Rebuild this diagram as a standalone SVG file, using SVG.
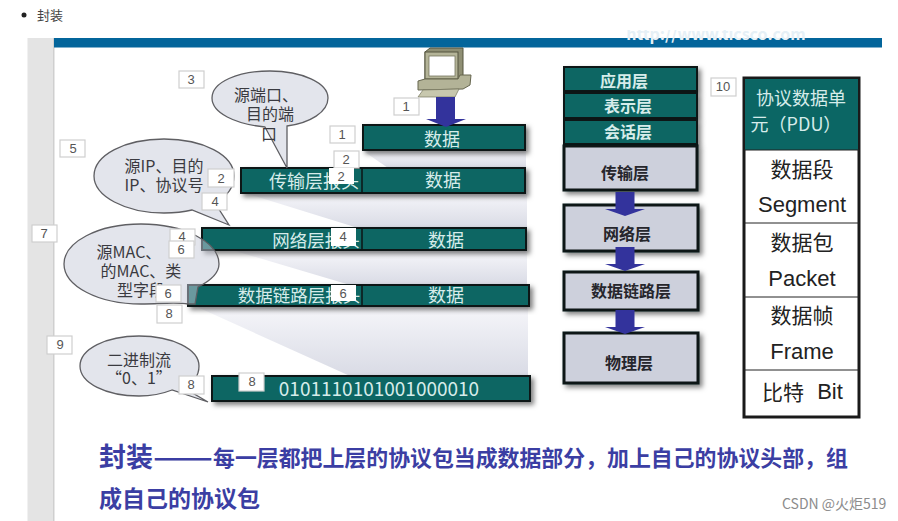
<svg xmlns="http://www.w3.org/2000/svg" width="898" height="521" viewBox="0 0 898 521">
<style>
text{font-family:"Noto Sans CJK SC","Liberation Sans",sans-serif}
.bar{fill:#0b6664;stroke:#0d1414;stroke-width:2}
.lay{fill:#cdd0dc;stroke:#0d1414;stroke-width:3}
.w{fill:#d6ecea;text-anchor:middle}
.d{fill:#26262c;text-anchor:middle;font-weight:700}
.c{fill:#3a3a40;text-anchor:middle;font-size:16px}
.call{fill:#c8cbd9;fill-opacity:.5;stroke:#5f5f63;stroke-width:1.3}
.num rect{fill:#fff;stroke:#cfcfcf;stroke-width:1.2}
.num text{fill:#555;text-anchor:middle;font-size:13px;font-family:"Liberation Sans",sans-serif}
.pd{fill:#222;text-anchor:middle;font-size:21px}
.en{fill:#222;text-anchor:middle;font-size:22px;font-family:"Liberation Sans",sans-serif}
.ar{fill:#33339c}
.ttl{fill:#3b3ea3;font-weight:700}
</style>
<defs>
<filter id="sh" x="-10%" y="-20%" width="125%" height="160%"><feDropShadow dx="3" dy="3" stdDeviation="2.500" flood-color="#000" flood-opacity=".5"/></filter>
<linearGradient id="fadeV" x1="0" y1="0" x2="0" y2="1"><stop offset="0" stop-color="#f6f6fa"/><stop offset="1" stop-color="#d9dbe5"/></linearGradient>
<path id="arrow" d="M-9.500 0H9.500V17H20L0 24L-20 17H-9.500Z"/>
</defs>

<rect width="898" height="521" fill="#fff"/>
<g id="page-heading"><circle cx="24" cy="15" r="2.500" fill="#222"/><text x="37" y="20" font-size="13" fill="#444">封装</text></g>
<rect x="27.500" y="38" width="26" height="483" fill="#e4e4e4"/>
<rect x="53" y="38" width="1.500" height="483" fill="#cfcfcf"/>
<rect x="54" y="38" width="828" height="9.500" fill="#03659b"/>
<text x="716" y="39.500" font-size="16" font-weight="700" fill="#e6f0f6" text-anchor="middle" font-family="Liberation Sans,sans-serif">http://www.ticsco.com</text>
<rect x="600" y="22" width="230" height="8" fill="#fff"/>

<g id="fade-bands">
<polygon points="362,150 526,150 526,168 388,168" fill="url(#fadeV)"/>
<polygon points="245,193 527,193 527,228 358,228" fill="url(#fadeV)"/>
<polygon points="235,251 527,251 527,285 350,285" fill="url(#fadeV)"/>
<polygon points="195,306 528,306 528,376 350,376" fill="url(#fadeV)"/>
</g>

<g id="computer">
<polygon points="425,52 430,48 463,48 463,75 458,79 425,79" fill="#8f8f74" stroke="#55553f"/>
<rect x="425" y="52" width="33" height="27" fill="#b4b498" stroke="#55553f"/>
<rect x="429" y="56" width="26" height="20" fill="#fff" stroke="#77775f" stroke-width=".8"/>
<polygon points="418,81 425,79 458,79 460,75 471,75 470,85 463,89 418,90" fill="#b3b397" stroke="#66664f"/>
<polygon points="423,90 459,89 455,97 418,97" fill="#c8c8ae" stroke="#77775f" stroke-width=".7"/>
</g>

<g id="seg-data"><rect class="bar" x="363" y="125" width="162" height="25" filter="url(#sh)"/><text class="w" x="442" y="146" font-size="18">数据</text></g>
<g id="seg-transport"><rect class="bar" x="241" y="168" width="284" height="25" filter="url(#sh)"/><line x1="362" y1="168" x2="362" y2="193" stroke="#0d1414" stroke-width="1.500"/><text class="w" x="314" y="188" font-size="18">传输层报头</text><text class="w" x="443" y="187" font-size="18">数据</text></g>
<g id="seg-network"><rect class="bar" x="202" y="228" width="324" height="22" filter="url(#sh)"/><line x1="362" y1="228" x2="362" y2="250" stroke="#0d1414" stroke-width="1.500"/><text class="w" x="316" y="247" font-size="17.500">网络层报头</text><text class="w" x="446" y="247" font-size="18">数据</text></g>
<g id="seg-link"><rect class="bar" x="188" y="285" width="341" height="21" filter="url(#sh)"/><line x1="362" y1="285" x2="362" y2="306" stroke="#0d1414" stroke-width="1.500"/><text class="w" x="299" y="302" font-size="17.500">数据链路层报头</text><text class="w" x="446" y="302" font-size="18">数据</text></g>
<g id="seg-bits"><rect class="bar" x="212" y="376" width="318" height="25" filter="url(#sh)"/><text class="w" x="379" y="396" font-size="19" font-family="Liberation Sans,sans-serif">0101110101001000010</text></g>

<g id="layer-app"><rect class="bar" x="564" y="67" width="133" height="24" filter="url(#sh)"/><text class="w" x="624" y="87" font-size="16" font-weight="700">应用层</text></g>
<g id="layer-pres"><rect class="bar" x="564" y="93" width="133" height="25" filter="url(#sh)"/><text class="w" x="628" y="112" font-size="16" font-weight="700">表示层</text></g>
<g id="layer-sess"><rect class="bar" x="564" y="120" width="133" height="24" filter="url(#sh)"/><text class="w" x="628" y="138" font-size="16" font-weight="700">会话层</text></g>
<g id="layer-trans"><rect class="lay" x="564" y="146" width="133" height="44" filter="url(#sh)"/><text class="d" x="625" y="179" font-size="16">传输层</text></g>
<g id="layer-net"><rect class="lay" x="564" y="205" width="134" height="46" filter="url(#sh)"/><text class="d" x="627" y="240" font-size="16">网络层</text></g>
<g id="layer-datalink"><rect class="lay" x="564" y="272" width="134" height="38" filter="url(#sh)"/><text class="d" x="631" y="297" font-size="16">数据链路层</text></g>
<g id="layer-phys"><rect class="lay" x="564" y="333" width="134" height="50" filter="url(#sh)"/><text class="d" x="629" y="369" font-size="16">物理层</text></g>

<g id="connectors">
<path class="ar" d="M436 97H455V119H466L446 127L426 119H436Z"/>
<use href="#arrow" x="625" y="192" class="ar"/>
<use href="#arrow" x="625" y="247" class="ar"/>
<use href="#arrow" x="625" y="310" class="ar"/>
</g>

<g id="callout-port"><path class="call" d="M265 127C235 124 212 113 212 98C212 82 238 71 270 71C302 71 328 83 328 98C328 112 310 123 287 126V168Z"/><text class="c" x="266" y="101">源端口、</text><text class="c" x="270" y="120">目的端</text><text class="c" x="269" y="140">口</text></g>
<g id="callout-ip"><path class="call" d="M192 210C184 212 175 213 164 213C125 213 94 196 94 176C94 155 125 139 164 139C203 139 234 155 234 176C234 188 226 197 215 203L229 225Z"/><text class="c" x="164" y="172">源IP、目的</text><text class="c" x="164" y="191">IP、协议号</text></g>
<g id="callout-mac"><path class="call" d="M188 304C175 302 160 304 141 304C98 304 64 286 64 264C64 242 98 224 141 224C184 224 219 242 219 264C219 272 212 280 198 287L195 304Z"/><text class="c" x="129" y="258">源MAC、</text><text class="c" x="141" y="277">的MAC、类</text><text class="c" x="141" y="296">型字段</text></g>
<g id="callout-bits"><path class="call" d="M172 390C162 394 151 396 139 396C106 396 80 383 80 366C80 349 106 336 139 336C172 336 199 349 199 366C199 376 193 384 184 388L208 402Z"/><text class="c" x="139" y="366">二进制流</text><text class="c" x="139" y="384">“0、1”</text></g>

<g id="pdu-table">
<rect x="744" y="78" width="115" height="339" fill="#fff" stroke="#1a1a1a" stroke-width="3"/>
<rect x="745" y="79" width="113" height="71" fill="#0b6664"/>
<text class="w" x="801" y="105" font-size="18">协议数据单</text><text class="w" x="796" y="131" font-size="18">元（PDU）</text>
<line x1="744" y1="150" x2="859" y2="150" stroke="#222"/><line x1="744" y1="223" x2="859" y2="223" stroke="#222"/><line x1="744" y1="297" x2="859" y2="297" stroke="#222"/><line x1="744" y1="370" x2="859" y2="370" stroke="#222"/>
<text class="pd" x="802" y="177">数据段</text><text class="en" x="802" y="212">Segment</text>
<text class="pd" x="802" y="250">数据包</text><text class="en" x="802" y="286">Packet</text>
<text class="pd" x="802" y="323">数据帧</text><text class="en" x="802" y="359">Frame</text>
<text class="pd" x="783" y="400">比特</text><text class="en" x="830" y="399">Bit</text>
</g>

<g id="numbers" class="num">
<rect x="179" y="71" width="25" height="17"/><text x="191" y="84">3</text>
<rect x="394" y="98" width="25" height="17"/><text x="406" y="111">1</text>
<rect x="330" y="126" width="25" height="17"/><text x="342" y="139">1</text>
<rect x="334" y="151" width="25" height="17"/><text x="346" y="164">2</text>
<rect x="329" y="168" width="25" height="16" style="stroke:none"/><text x="341" y="181">2</text>
<rect x="60" y="140" width="25" height="17"/><text x="73" y="153">5</text>
<rect x="208" y="169" width="26" height="18"/><text x="221" y="183">2</text>
<rect x="202" y="193" width="25" height="17"/><text x="215" y="206">4</text>
<rect x="32" y="225" width="25" height="17"/><text x="44" y="238">7</text>
<rect x="170" y="229" width="25" height="16"/><text x="182" y="241">4</text>
<rect x="169" y="241" width="25" height="17"/><text x="181" y="254">6</text>
<rect x="331" y="228" width="25" height="18" style="stroke:none"/><text x="343" y="241">4</text>
<rect x="156" y="285" width="25" height="17"/><text x="168" y="298">6</text>
<rect x="157" y="305" width="25" height="18"/><text x="169" y="318">8</text>
<rect x="331" y="285" width="25" height="16" style="stroke:none"/><text x="343" y="298">6</text>
<rect x="47" y="336" width="25" height="18"/><text x="60" y="349">9</text>
<rect x="179" y="376" width="25" height="18"/><text x="191" y="389">8</text>
<rect x="239" y="373" width="25" height="18"/><text x="252" y="386">8</text>
<rect x="711" y="78" width="25" height="18"/><text x="723" y="91">10</text>
</g>

<g id="caption">
<text class="ttl" x="99" y="467" font-size="27">封装<tspan dx="0" textLength="60" lengthAdjust="spacingAndGlyphs">——</tspan></text>
<text class="ttl" x="213" y="466" font-size="21.900">每一层都把上层的协议包当成数据部分，加上自己的协议头部，组</text>
<text class="ttl" x="99" y="507" font-size="23">成自己的协议包</text>
</g>
<text id="watermark" x="782" y="509" font-size="14" fill="#8c8c8c">CSDN @火炬519</text>
</svg>
